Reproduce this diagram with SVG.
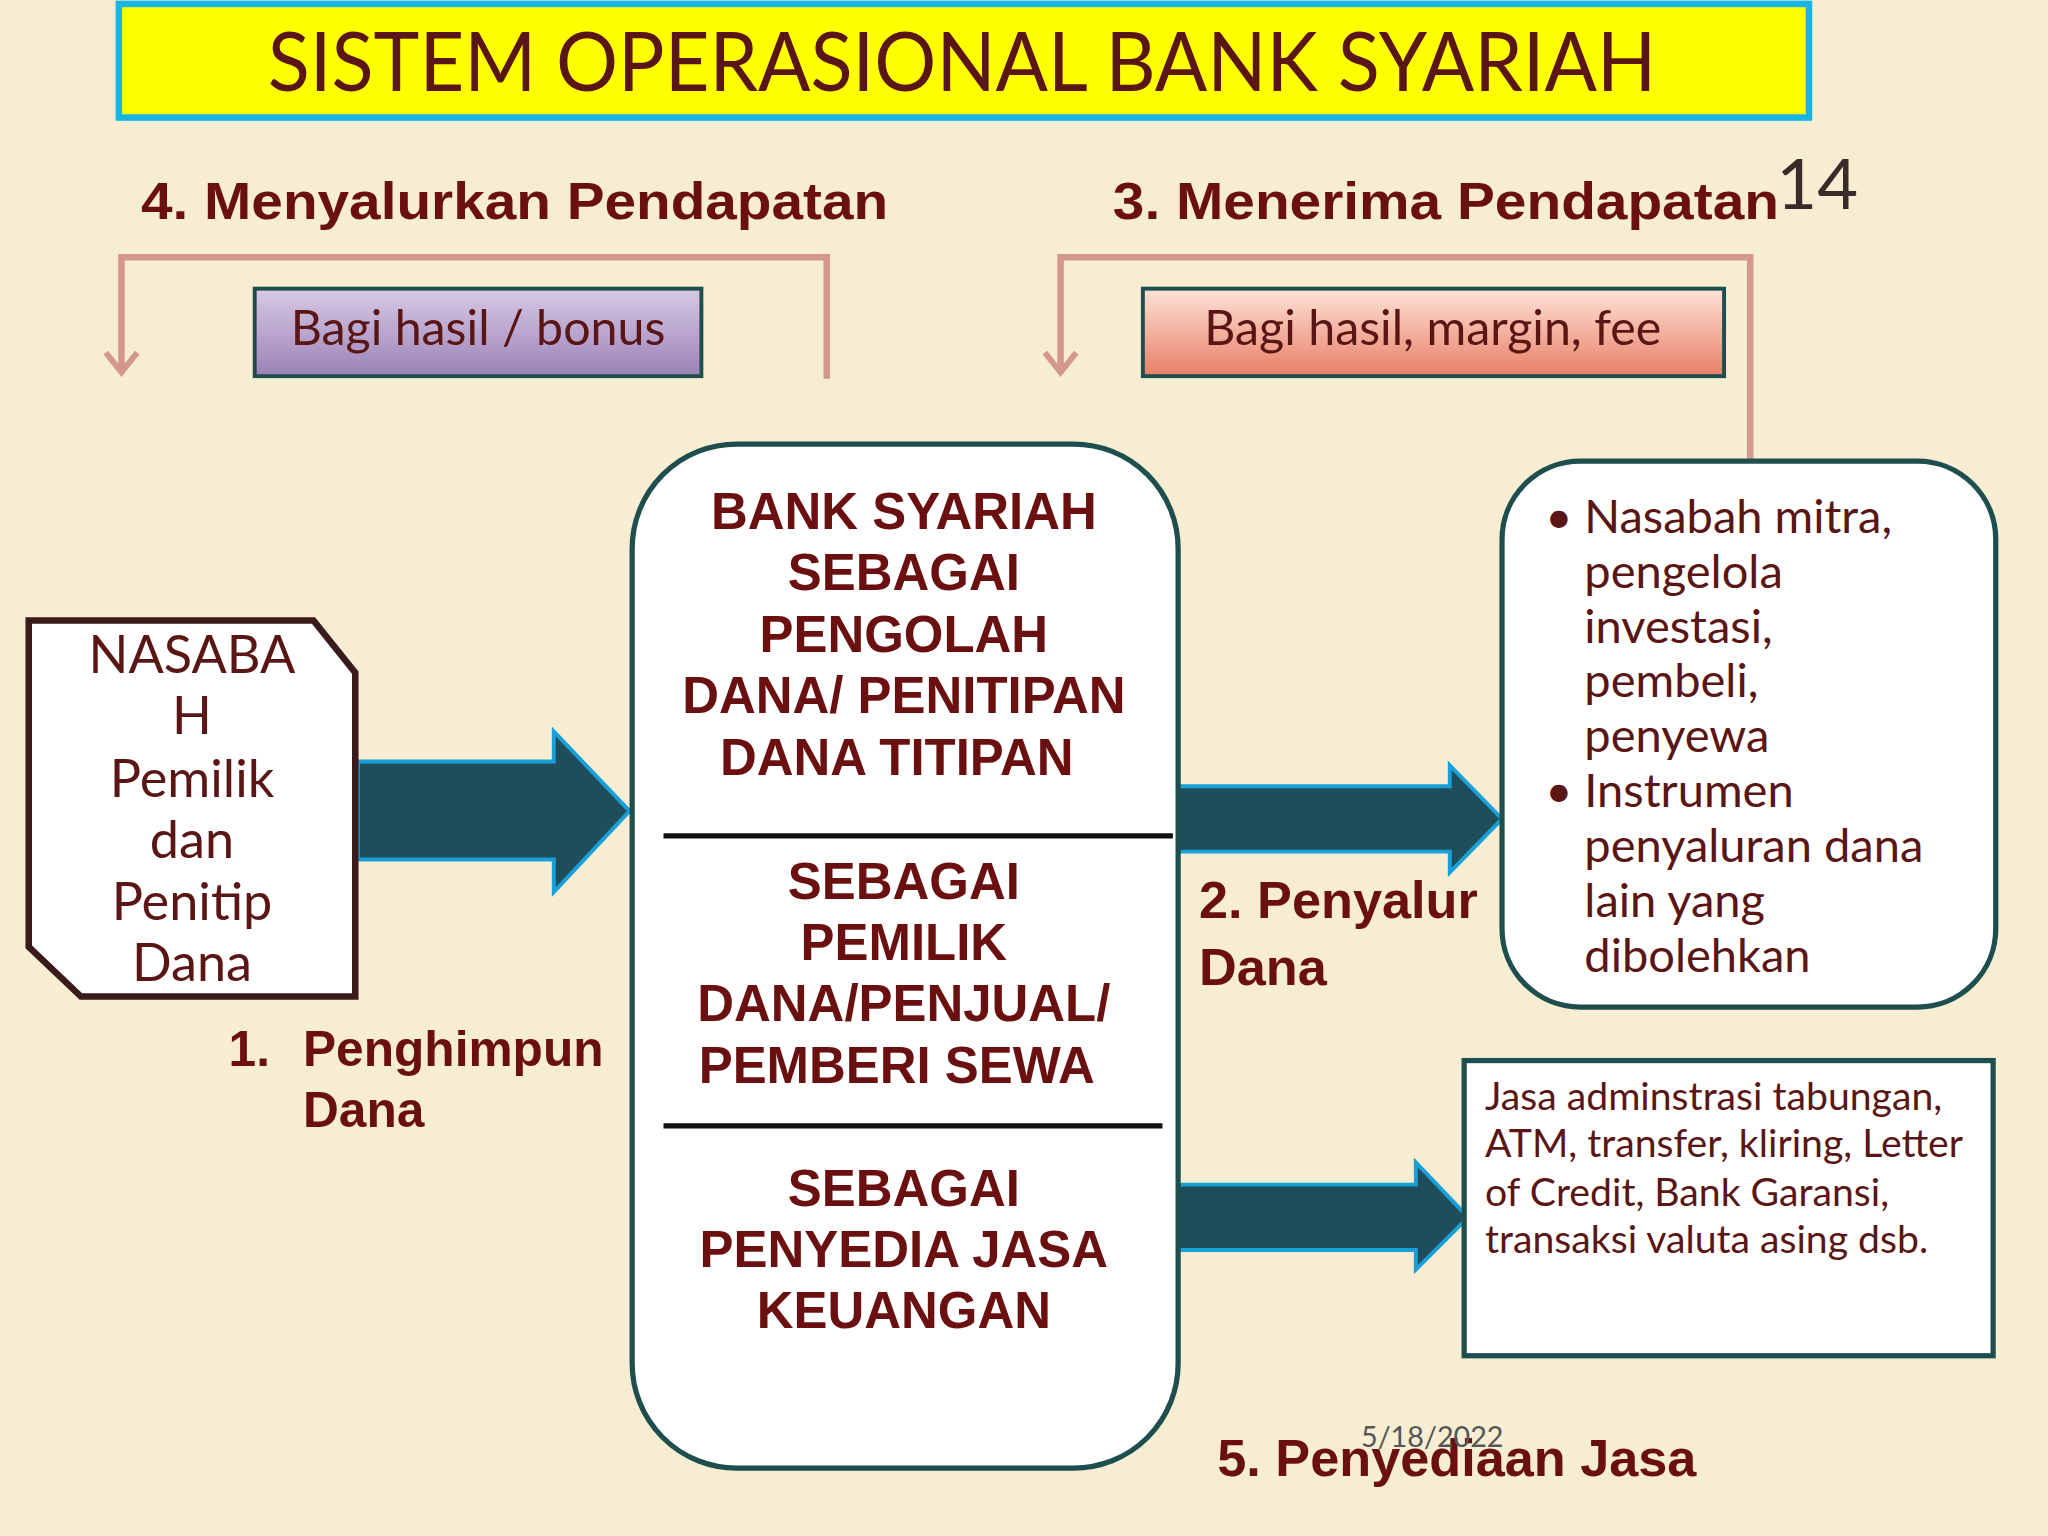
<svg xmlns="http://www.w3.org/2000/svg" width="2048" height="1536" viewBox="0 0 2048 1536">
<defs>
<linearGradient id="gp" x1="0" y1="0" x2="0" y2="1"><stop offset="0" stop-color="#d9c9e6"/><stop offset="1" stop-color="#9a82b6"/></linearGradient>
<linearGradient id="gs" x1="0" y1="0" x2="0" y2="1"><stop offset="0" stop-color="#fde3d8"/><stop offset="1" stop-color="#e87f66"/></linearGradient>
<marker id="ah" viewBox="0 0 10 10" refX="5" refY="5" markerWidth="6" markerHeight="6" orient="auto"><path d="M1,1 L6,5 L1,9" fill="none" stroke="#d4978f" stroke-width="1.5"/></marker>
<style>
.t{font-family:Lato,"Open Sans",sans-serif;fill:#5a1515}
.b{font-family:"Liberation Sans",Arial,sans-serif;font-weight:bold;fill:#6b1010}
.big{fill:#1f4e5a;stroke:#1aa0d8;stroke-width:3}
.ln{fill:none;stroke:#d4978f;stroke-width:5}
</style>
</defs>
<rect width="2048" height="1536" fill="#f6edd2"/>
<g transform="scale(1.30612)">
<g id="title"><rect x="91" y="3" width="1294" height="87" fill="#ffff00" stroke="#19b4e6" stroke-width="5"/>
<text class="t" x="205" y="70" font-size="62" textLength="1063" lengthAdjust="spacingAndGlyphs">SISTEM OPERASIONAL BANK SYARIAH</text></g>
<text class="b" x="108" y="168" font-size="40" fill="#5a1515" textLength="572" lengthAdjust="spacingAndGlyphs">4. Menyalurkan Pendapatan</text>
<text class="b" x="852" y="168" font-size="40" textLength="510" lengthAdjust="spacingAndGlyphs">3. Menerima Pendapatan</text>
<text x="1360" y="160" font-size="54" font-family="Lato,sans-serif" fill="#3a2a2a">14</text>
<g id="connectors">
<polyline class="ln" points="633,290 633,197 93,197 93,282" marker-end="url(#ah)"/>
<polyline class="ln" points="1340,352 1340,197 812,197 812,282" marker-end="url(#ah)"/>
<path class="big" d="M274,583 H424 V560 L482,621 L424,683 V658 H274 Z"/>
<path class="big" d="M902,602 H1110 V586 L1150,627 L1110,668 V652 H902 Z"/>
<path class="big" d="M902,907 H1084 V890 L1124,932 L1084,972 V957 H902 Z"/>
</g>
<g id="lbl1"><rect x="195" y="221" width="342" height="67" fill="url(#gp)" stroke="#1f4e4e" stroke-width="3"/>
<text class="t" x="366" y="264" font-size="37" text-anchor="middle">Bagi hasil / bonus</text></g>
<g id="lbl2"><rect x="875" y="221" width="445" height="67" fill="url(#gs)" stroke="#1f4e4e" stroke-width="3"/>
<text class="t" x="1097" y="264" font-size="37" text-anchor="middle">Bagi hasil, margin, fee</text></g>
<g id="nasabah"><polygon points="22,475 240,475 272,515 272,763 62,763 22,725" fill="#fff" stroke="#3a1a1a" stroke-width="5"/>
<text class="t" font-size="40" text-anchor="middle"><tspan x="147" y="515">NASABA</tspan><tspan x="147" y="562">H</tspan><tspan x="147" y="610">Pemilik</tspan><tspan x="147" y="657">dan</tspan><tspan x="147" y="704">Penitip</tspan><tspan x="147" y="751">Dana</tspan></text></g>
<text class="b" font-size="38"><tspan x="175" y="816">1.</tspan><tspan x="232" y="816">Penghimpun</tspan><tspan x="232" y="863">Dana</tspan></text>
<text class="b" font-size="40"><tspan x="918" y="703">2. Penyalur</tspan><tspan x="918" y="754">Dana</tspan></text>
<g id="bank"><rect x="484" y="340" width="418" height="784" rx="80" fill="#fff" stroke="#1f4e4e" stroke-width="4"/>
<text class="b" font-size="39" text-anchor="middle"><tspan x="692" y="405">BANK SYARIAH</tspan><tspan x="692" y="452">SEBAGAI</tspan><tspan x="692" y="499">PENGOLAH</tspan><tspan x="692" y="546">DANA/ PENITIPAN</tspan><tspan x="692" y="593">DANA TITIPAN</tspan>
<tspan x="692" y="688">SEBAGAI</tspan><tspan x="692" y="735">PEMILIK</tspan><tspan x="692" y="782">DANA/PENJUAL/</tspan><tspan x="692" y="829">PEMBERI SEWA</tspan>
<tspan x="692" y="923">SEBAGAI</tspan><tspan x="692" y="970">PENYEDIA JASA</tspan><tspan x="692" y="1017">KEUANGAN</tspan></text>
<line x1="508" y1="640" x2="898" y2="640" stroke="#111" stroke-width="4"/>
<line x1="508" y1="862" x2="890" y2="862" stroke="#111" stroke-width="4"/></g>
<g id="mitra"><rect x="1150" y="353" width="378" height="418" rx="60" fill="#fff" stroke="#1f4e4e" stroke-width="4"/>
<text class="t" font-size="36"><tspan x="1183" y="408">•</tspan><tspan x="1213" y="408">Nasabah mitra,</tspan><tspan x="1213" y="450">pengelola</tspan><tspan x="1213" y="492">investasi,</tspan><tspan x="1213" y="534">pembeli,</tspan><tspan x="1213" y="576">penyewa</tspan><tspan x="1183" y="618">•</tspan><tspan x="1213" y="618">Instrumen</tspan><tspan x="1213" y="660">penyaluran dana</tspan><tspan x="1213" y="702">lain yang</tspan><tspan x="1213" y="744">dibolehkan</tspan></text></g>
<g id="jasa"><rect x="1121" y="812" width="405" height="226" fill="#fff" stroke="#1f4e4e" stroke-width="4"/>
<text class="t" font-size="30"><tspan x="1137" y="850">Jasa adminstrasi tabungan,</tspan><tspan x="1137" y="886">ATM, transfer, kliring, Letter</tspan><tspan x="1137" y="923">of Credit, Bank Garansi,</tspan><tspan x="1137" y="959">transaksi valuta asing dsb.</tspan></text></g>
<text class="b" x="932" y="1130" font-size="40">5. Penyediaan Jasa</text>
<text x="1042" y="1108" font-size="22" font-family="Lato,sans-serif" fill="#555">5/18/2022</text>
</g>
</svg>
